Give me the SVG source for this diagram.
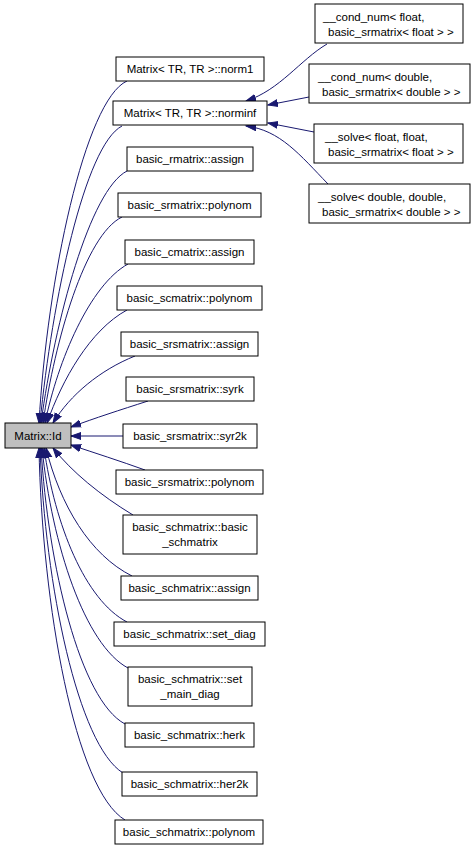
<svg xmlns="http://www.w3.org/2000/svg" width="474" height="849" viewBox="0 0 474 849">
<style>
.n rect{fill:#fff;stroke:#000;stroke-width:1}
.n text{font-family:"Liberation Sans",Arial,sans-serif;font-size:11.5px;fill:#000;text-anchor:middle}
.n text.l{text-anchor:start}
#e path{fill:none;stroke:#191970;stroke-width:1;marker-end:url(#a)}
</style>
<defs>
<marker id="a" markerUnits="userSpaceOnUse" markerWidth="12" markerHeight="10" refX="10" refY="4" orient="auto" viewBox="0 0 12 8">
<path d="M0,0.5 L10,4 L0,7.5 Z" fill="#191970" stroke="#191970"/>
</marker>
</defs>
<rect width="474" height="849" fill="#fff"/>
<g id="e">
<path d="M127,81 C85,100 47,280 39,423"/>
<path d="M122,126 C85,145 52,300 40,423"/>
<path d="M127,171 C90,190 55,320 41,423"/>
<path d="M122,217 C85,235 55,340 43,423"/>
<path d="M128,264 C90,285 58,360 45,423"/>
<path d="M127,310 C90,330 62,380 47,423"/>
<path d="M135,356 C100,370 70,395 53,423"/>
<path d="M148,401 C120,410 95,418 71,427"/>
<path d="M123,436 L71,436"/>
<path d="M145,470 C120,461 95,453 71,445"/>
<path d="M133,515 C100,495 72,472 53,448"/>
<path d="M132,576 C90,555 60,505 46,448"/>
<path d="M127,622 C85,600 55,525 44,448"/>
<path d="M128,668 C85,645 52,545 42,448"/>
<path d="M125,724 C80,700 48,565 41,448"/>
<path d="M123,773 C78,745 45,585 40,448"/>
<path d="M125,820 C75,790 42,605 39,448"/>
<path d="M327,44 C300,60 280,90 246,101"/>
<path d="M309,97 L268,105"/>
<path d="M314,132 L268,123"/>
<path d="M328,184 C300,155 280,130 246,126"/>
</g>
<g id="n_id" class="n"><rect x="5" y="423" width="66" height="25" style="fill:#bfbfbf"/><text x="38" y="440">Matrix::Id</text></g>
<g id="n_norm1" class="n"><rect x="116" y="57" width="148" height="24"/><text x="190" y="73">Matrix&lt; TR, TR &gt;::norm1</text></g>
<g id="n_norminf" class="n"><rect x="113" y="101" width="154" height="24"/><text x="190" y="117">Matrix&lt; TR, TR &gt;::norminf</text></g>
<g id="n_rm_assign" class="n"><rect x="127" y="147" width="126" height="24"/><text x="190" y="163">basic_rmatrix::assign</text></g>
<g id="n_srm_polynom" class="n"><rect x="118" y="193" width="143" height="24"/><text x="189.5" y="209">basic_srmatrix::polynom</text></g>
<g id="n_cm_assign" class="n"><rect x="125" y="240" width="129" height="24"/><text x="189.5" y="256">basic_cmatrix::assign</text></g>
<g id="n_scm_polynom" class="n"><rect x="117" y="286" width="145" height="24"/><text x="189.5" y="302">basic_scmatrix::polynom</text></g>
<g id="n_srsm_assign" class="n"><rect x="121" y="332" width="137" height="24"/><text x="189.5" y="348">basic_srsmatrix::assign</text></g>
<g id="n_srsm_syrk" class="n"><rect x="126" y="377" width="128" height="24"/><text x="190" y="393">basic_srsmatrix::syrk</text></g>
<g id="n_srsm_syr2k" class="n"><rect x="123" y="424" width="134" height="24"/><text x="190" y="440">basic_srsmatrix::syr2k</text></g>
<g id="n_srsm_polynom" class="n"><rect x="116" y="470" width="147" height="24"/><text x="189.5" y="486">basic_srsmatrix::polynom</text></g>
<g id="n_schm_ctor" class="n"><rect x="123" y="515" width="134" height="39"/><text x="190" y="531">basic_schmatrix::basic</text><text x="190" y="546">_schmatrix</text></g>
<g id="n_schm_assign" class="n"><rect x="121" y="576" width="137" height="24"/><text x="189.5" y="592">basic_schmatrix::assign</text></g>
<g id="n_schm_setdiag" class="n"><rect x="114" y="622" width="151" height="24"/><text x="189.5" y="638">basic_schmatrix::set_diag</text></g>
<g id="n_schm_setmaindiag" class="n"><rect x="128" y="667" width="124" height="39"/><text x="190" y="683">basic_schmatrix::set</text><text x="190" y="698">_main_diag</text></g>
<g id="n_schm_herk" class="n"><rect x="125" y="723" width="129" height="24"/><text x="189.5" y="739">basic_schmatrix::herk</text></g>
<g id="n_schm_her2k" class="n"><rect x="122" y="772" width="135" height="24"/><text x="189.5" y="788">basic_schmatrix::her2k</text></g>
<g id="n_schm_polynom" class="n"><rect x="115" y="820" width="148" height="24"/><text x="189" y="836">basic_schmatrix::polynom</text></g>
<g id="n_cond_float" class="n"><rect x="315" y="4" width="148" height="39"/><text class="l" x="323" y="20.5">__cond_num&lt; float,</text><text class="l" x="328" y="35.5">basic_srmatrix&lt; float &gt; &gt;</text></g>
<g id="n_cond_double" class="n"><rect x="309" y="64" width="161" height="39"/><text class="l" x="318" y="80.5">__cond_num&lt; double,</text><text class="l" x="322" y="95.5">basic_srmatrix&lt; double &gt; &gt;</text></g>
<g id="n_solve_float" class="n"><rect x="314" y="124" width="149" height="39"/><text class="l" x="325" y="140.5">__solve&lt; float, float,</text><text class="l" x="328" y="155.5">basic_srmatrix&lt; float &gt; &gt;</text></g>
<g id="n_solve_double" class="n"><rect x="309" y="184" width="161" height="39"/><text class="l" x="318" y="200.5">__solve&lt; double, double,</text><text class="l" x="322" y="215.5">basic_srmatrix&lt; double &gt; &gt;</text></g>
</svg>
